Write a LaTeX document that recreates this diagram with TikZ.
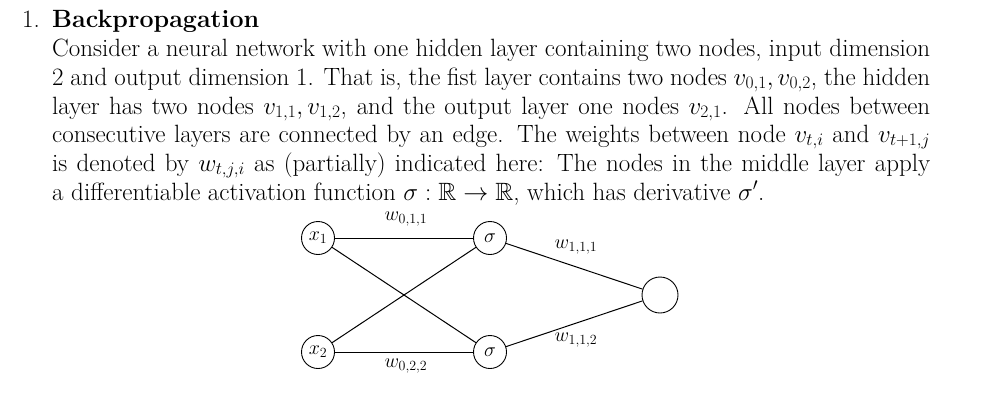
\documentclass[tikz,border=0pt]{standalone}
\usepackage{fix-cm}
\usepackage{amssymb}
\usepackage{fontspec}
\begin{document}
\begin{tikzpicture}[x=1pt,y=-1pt,
  txt/.style={anchor=base west,inner sep=0pt,font=\fontsize{25}{29}\selectfont},
  nd/.style={circle,draw,line width=0.9pt,minimum size=33pt,inner sep=0pt,font=\fontsize{20}{22}\selectfont},
  lbl/.style={inner sep=1pt,font=\fontsize{20}{22}\selectfont},
  edge/.style={line width=1pt}]
\useasboundingbox (0,0) rectangle (996,402);
\node[txt] (n) at (22,27) {1.};
\node[txt] (h) at (52,27) {\textbf{Backpropagation}};
\node[txt] (l1) at (52,56) {\hbox to 878pt{Consider a neural network with one hidden layer containing two nodes, input dimension}};
\node[txt] (l2) at (52,85) {\hbox to 878pt{2 and output dimension 1. That is, the fist layer contains two nodes $v_{0,1}, v_{0,2}$, the hidden}};
\node[txt] (l3) at (52,114) {\hbox to 878pt{layer has two nodes $v_{1,1}, v_{1,2}$, and the output layer one nodes $v_{2,1}$. All nodes between}};
\node[txt] (l4) at (52,142) {\hbox to 878pt{consecutive layers are connected by an edge. The weights between node $v_{t,i}$ and $v_{t+1,j}$}};
\node[txt] (l5) at (52,171) {\hbox to 878pt{is denoted by $w_{t,j,i}$ as (partially) indicated here: The nodes in the middle layer apply}};
\node[txt] (l6) at (52,200) {a differentiable activation function $\sigma:\mathbb{R}\to\mathbb{R}$, which has derivative $\sigma'$.};
\node[nd] (x1) at (318,238) {$x_1$};
\node[nd] (x2) at (318,352) {$x_2$};
\node[nd] (s1) at (490,238) {$\sigma$};
\node[nd] (s2) at (490,352) {$\sigma$};
\node[nd,minimum size=36pt] (o) at (660,295) {};
\draw[edge] (x1) -- (s1);
\draw[edge] (x1) -- (s2);
\draw[edge] (x2) -- (s1);
\draw[edge] (x2) -- (s2);
\draw[edge] (s1) -- (o);
\draw[edge] (s2) -- (o);
\node[lbl] (w011) at (406,219) {$w_{0,1,1}$};
\node[lbl] (w022) at (406,366) {$w_{0,2,2}$};
\node[lbl] (w111) at (576,247) {$w_{1,1,1}$};
\node[lbl] (w112) at (576,340) {$w_{1,1,2}$};
\end{tikzpicture}
\end{document}
